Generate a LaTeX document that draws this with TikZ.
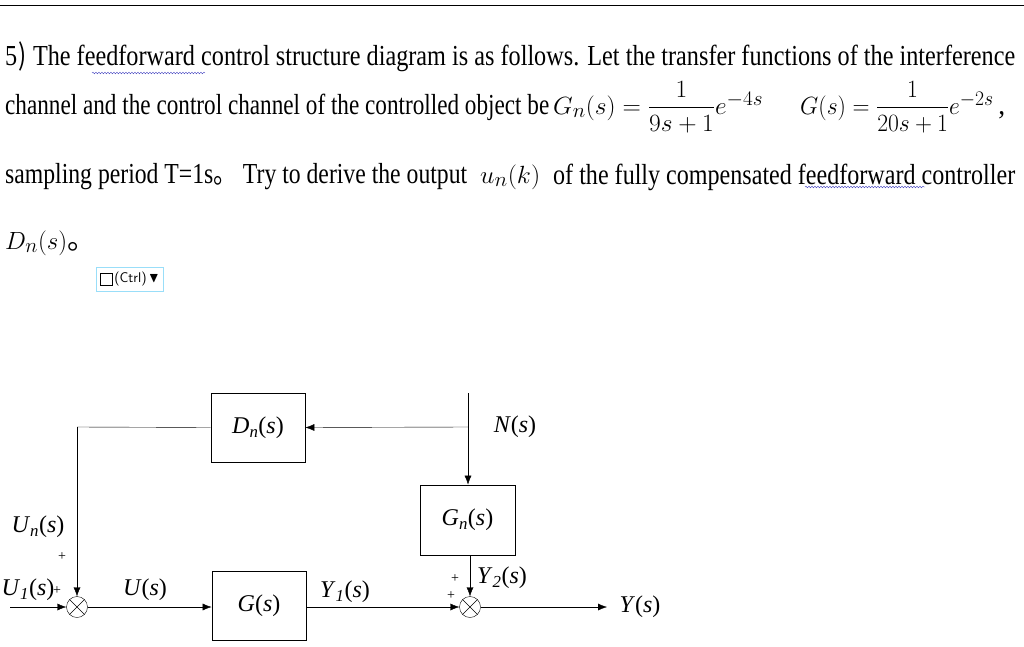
\documentclass[tikz,border=0pt]{standalone}
\usepackage{amsmath,amssymb}
\usepackage{fontspec}
\setmainfont{Liberation Serif}
\newfontfamily\cjk{Noto Sans CJK SC}
\usetikzlibrary{arrows.meta,decorations.pathmorphing}
\newcommand\fitw[2]{\resizebox{#1}{\height}{#2}}
\newcommand\fn[2]{\textit{#1}\ifx\relax#2\relax\else\textsubscript{\textit{#2}}\fi(\textit{s})}
\begin{document}
\begin{tikzpicture}[x=1pt,y=-1pt,
  txt/.style={anchor=west,inner sep=0,font=\fontsize{29}{34}\selectfont},
  lbl/.style={inner sep=0,font=\fontsize{24}{28}\selectfont},
  pl/.style={inner sep=0,font=\fontsize{14}{16}\selectfont},
  blk/.style={draw,thick,inner sep=0},
  sumj/.style={draw,circle,minimum size=21pt,inner sep=0},
  arr/.style={-{Latex[length=9pt,width=7pt]}},
  wav/.style={draw=blue!50!gray,thin,decorate,decoration={snake,amplitude=0.8pt,segment length=3pt}}]
\useasboundingbox (0,0) rectangle (1024,647);
\draw[thick] (0,5) -- (1024,5);
% text
\node[txt] (l1) at (5,57) {\fitw{1010pt}{5\kern1pt{\cjk )}\kern8pt The feedforward control structure diagram is as follows. Let the transfer functions of the interference}};
\node[txt] (l2) at (5,107) {\fitw{544pt}{channel and the control channel of the controlled object be}};
\node[txt] (f1) at (553,107) {\fitw{210pt}{$G_n(s)=\dfrac{1}{9s+1}e^{-4s}$}};
\node[txt] (f2) at (800,107) {\fitw{205pt}{$G(s)=\dfrac{1}{20s+1}e^{-2s}$\,,}};
\node[txt] (l3) at (5,177) {\fitw{462pt}{sampling period T=1s{\cjk 。} Try to derive the output}};
\node[txt] (u) at (480,177) {\fitw{60pt}{$u_n(k)$}};
\node[txt] (l3b) at (553,177) {\fitw{462pt}{of the fully compensated feedforward controller}};
\node[txt] (l4) at (5,243) {$D_n(s)${\cjk 。}};
\draw[wav] (92,73) -- (205,73);
\draw[wav] (805,187) -- (925,187);
\node[draw=cyan!40,line width=1pt,minimum width=67pt,minimum height=24pt,anchor=north west,inner sep=0] (ctrl) at (96,267) {};
\node[anchor=west,inner sep=0,font=\fontsize{14}{16}\selectfont\sffamily] (ctrlt) at (100,279) {\fbox{\rule{0pt}{6pt}\kern5pt}\,(Ctrl)\,$\blacktriangledown$};
% diagram
\node[blk,minimum width=94pt,minimum height=69pt] (dn) at (258,427.5) {};
\node[lbl] (dnt) at (258,427.5) {\fn{D}{n}};
\node[blk,minimum width=95pt,minimum height=70pt] (gn) at (467.5,520) {};
\node[lbl] (gnt) at (467.5,520) {\fn{G}{n}};
\node[blk,minimum width=94pt,minimum height=69pt] (g) at (259,605.5) {};
\node[lbl] (gt) at (259,605.5) {\fn{G}{}};
\node[sumj] (s1) at (77,607) {};
\node[sumj] (s2) at (470,607) {};
\draw (s1.north east) -- (s1.south west) (s1.north west) -- (s1.south east);
\draw (s2.north east) -- (s2.south west) (s2.north west) -- (s2.south east);
\coordinate (ntop) at (468,393);
\coordinate (nbr) at (468,427);
\coordinate (lc) at (77,427);
\coordinate (in) at (10,607);
\coordinate (out) at (607,607);
\draw (ntop) -- (nbr);
\draw[arr] (nbr) -- (gn.north -| nbr);
\draw[arr] (nbr) -- (dn.east);
\draw (dn.west) -- (lc);
\draw[arr] (lc) -- (s1.north);
\draw[arr] (in) -- (s1.west);
\draw[arr] (s1.east) -- (g.west |- s1.east);
\draw[arr] (g.east |- s2.west) -- (s2.west);
\draw[arr] (gn.south -| s2.north) -- (s2.north);
\draw[arr] (s2.east) -- (out);
\node[lbl] (ns) at (515,427) {\fn{N}{}};
\node[lbl] (uns) at (38,527) {\fn{U}{n}};
\node[pl] (p1) at (62,557) {+};
\node[lbl] (u1s) at (28,590) {\fn{U}{1}};
\node[pl] (p2) at (57,591) {+};
\node[lbl] (us) at (145,590) {\fn{U}{}};
\node[lbl] (y1s) at (345,592) {\fn{Y}{1}};
\node[pl] (p3) at (455,579) {+};
\node[pl] (p4) at (451,596) {+};
\node[lbl] (y2s) at (502,578) {\fn{Y}{2}};
\node[lbl] (ys) at (640,607) {\fn{Y}{}};
\end{tikzpicture}
\end{document}
